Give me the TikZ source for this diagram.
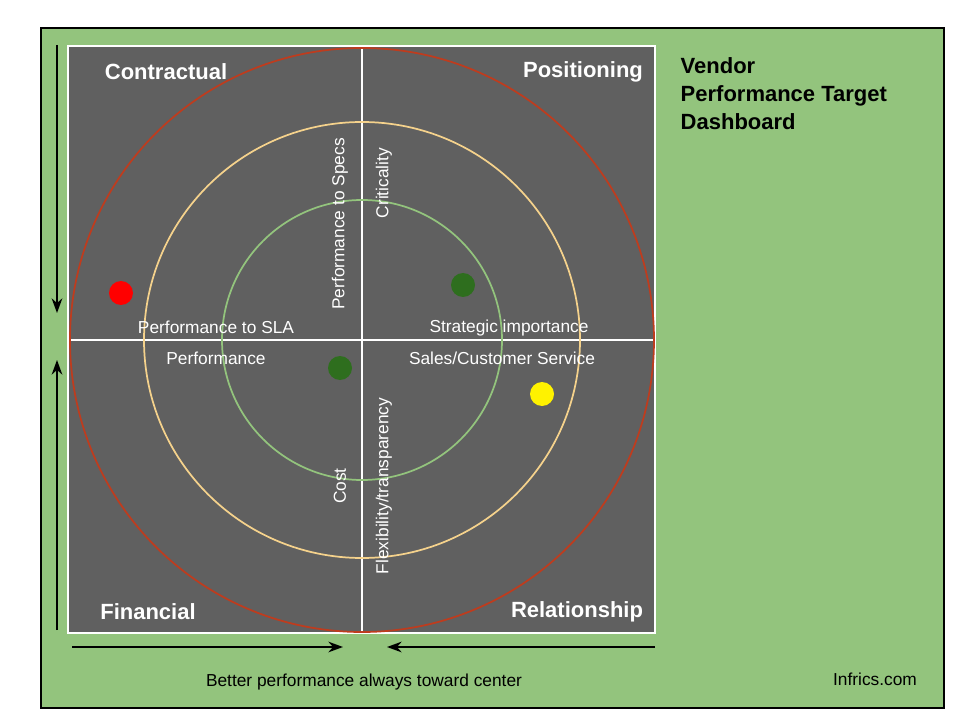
\documentclass[tikz,border=0pt]{standalone}
\usepackage{fontspec}
\setmainfont{Liberation Sans}
\usetikzlibrary{arrows.meta}
\definecolor{bg}{RGB}{147,196,125}
\definecolor{panel}{RGB}{96,96,96}
\definecolor{ringr}{RGB}{190,60,30}
\definecolor{ringy}{RGB}{245,210,140}
\definecolor{dgreen}{RGB}{46,110,30}
\tikzset{
 hdr/.style={text=white,font=\bfseries\fontsize{16.5}{19}\selectfont},
 lbl/.style={text=white,font=\fontsize{13}{15}\selectfont},
 ttl/.style={text=black,font=\bfseries\fontsize{16.5}{21}\selectfont,align=left,anchor=north west},
 arr/.style={draw=black,line width=1.3pt,-{Stealth[length=11pt,width=8pt]}},
 dot/.style={circle,inner sep=0pt,minimum size=18pt}
}
\begin{document}
\begin{tikzpicture}[x=0.75pt,y=-0.75pt]
\useasboundingbox (0,0) rectangle (960,720);
\fill[white] (0,0) rectangle (960,720);
\draw[fill=bg,draw=black,line width=0.8pt] (41,28) rectangle (944,708);
\draw[fill=panel,draw=white,line width=1pt] (68,46) rectangle (655,633);
\draw[draw=white,line width=1pt] (362,46) -- (362,633) (68,340) -- (655,340);
\node (c) at (362,340) {};
\draw[draw=ringr,line width=1.3pt] (c.center) circle[radius=292];
\draw[draw=ringy,line width=1.3pt] (c.center) circle[radius=218];
\draw[draw=bg,line width=1.3pt] (c.center) circle[radius=140];
\node[dot,fill=red] (d1) at (121,293) {};
\node[dot,fill=dgreen] (d2) at (463,285) {};
\node[dot,fill=dgreen] (d3) at (340,368) {};
\node[dot,fill=yellow] (d4) at (542,394) {};
\node[hdr] (h1) at (166,72) {Contractual};
\node[hdr] (h2) at (583,72) {Positioning};
\node[hdr] (h3) at (148,612) {Financial};
\node[hdr] (h4) at (577,612) {Relationship};
\node[lbl,rotate=90] (l1) at (340,224) {Performance to Specs};
\node[lbl,rotate=90] (l2) at (384,183) {Criticality};
\node[lbl] (l3) at (216,327) {Performance to SLA};
\node[lbl] (l4) at (509,328) {Strategic importance};
\node[lbl] (l5) at (216,358) {Performance};
\node[lbl] (l6) at (502,358) {Sales/Customer Service};
\node[lbl,rotate=90] (l7) at (340,486) {Cost};
\node[lbl,rotate=90] (l8) at (384,486) {Flexibility/transparency};
\node[ttl] (t) at (676,53) {Vendor\\Performance Target\\Dashboard};
\node[font=\fontsize{13}{15}\selectfont] (b) at (364,682) {Better performance always toward center};
\node[font=\fontsize{13}{15}\selectfont] (w) at (875,679) {Infrics.com};
\coordinate (a1) at (57,45); \coordinate (a2) at (57,313);
\coordinate (a3) at (57,630); \coordinate (a4) at (57,360);
\coordinate (a5) at (72,647); \coordinate (a6) at (343,647);
\coordinate (a7) at (655,647); \coordinate (a8) at (387,647);
\draw[arr] (a1) -- (a2);
\draw[arr] (a3) -- (a4);
\draw[arr] (a5) -- (a6);
\draw[arr] (a7) -- (a8);
\end{tikzpicture}
\end{document}
